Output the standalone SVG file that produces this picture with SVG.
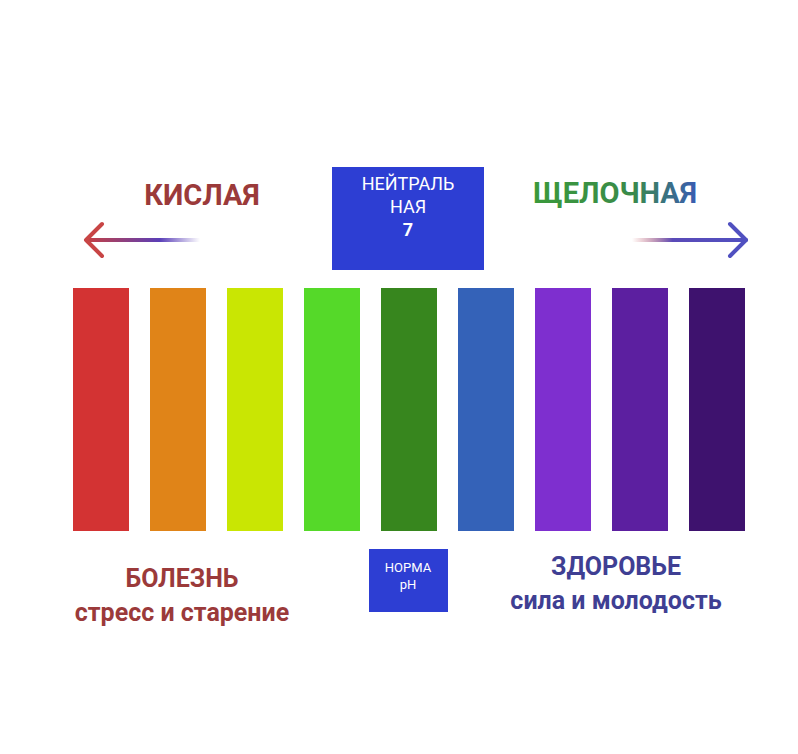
<svg xmlns="http://www.w3.org/2000/svg" width="798" height="754" viewBox="0 0 798 754">
<defs>
<linearGradient id="gl" x1="85" y1="0" x2="200" y2="0" gradientUnits="userSpaceOnUse"><stop offset="0" stop-color="#c84040"/><stop offset="0.65" stop-color="#5a3fb8"/><stop offset="1" stop-color="#5a3fb8" stop-opacity="0"/></linearGradient>
<linearGradient id="gr" x1="632" y1="0" x2="748" y2="0" gradientUnits="userSpaceOnUse"><stop offset="0" stop-color="#c84040" stop-opacity="0"/><stop offset="0.35" stop-color="#5a4ab8"/><stop offset="1" stop-color="#5050c0"/></linearGradient>
<linearGradient id="gt" x1="530" y1="0" x2="700" y2="0" gradientUnits="userSpaceOnUse"><stop offset="0" stop-color="#3a9a3a"/><stop offset="0.6" stop-color="#3a8a4a"/><stop offset="1" stop-color="#3a5ab8"/></linearGradient>
<style>
text{font-family:Roboto,"Liberation Sans",sans-serif;text-anchor:middle}
.b{font-weight:bold}
.w{fill:#fff}
</style>
</defs>
<rect width="798" height="754" fill="#fff"/>
<g id="bars">
<rect x="73" y="288" width="56" height="243" fill="#d33333"/>
<rect x="150" y="288" width="56" height="243" fill="#e08418"/>
<rect x="227" y="288" width="56" height="243" fill="#c9e603"/>
<rect x="304" y="288" width="56" height="243" fill="#55d929"/>
<rect x="381" y="288" width="56" height="243" fill="#37861e"/>
<rect x="458" y="288" width="56" height="243" fill="#3462b8"/>
<rect x="535" y="288" width="56" height="243" fill="#7e2fcf"/>
<rect x="612" y="288" width="56" height="243" fill="#5c1fa0"/>
<rect x="689" y="288" width="56" height="243" fill="#3e126e"/>
</g>
<g id="neutral">
<rect x="332" y="167" width="152" height="103" fill="#2d3ed3"/>
<text x="408" y="190" class="w" font-size="18">НЕЙТРАЛЬ</text>
<text x="408" y="213" class="w" font-size="18">НАЯ</text>
<text x="408" y="236" class="w b" font-size="18">7</text>
</g>
<g id="norma">
<rect x="369" y="549" width="79" height="63" fill="#2d3ed3"/>
<text x="408" y="572" class="w" font-size="13">НОРМА</text>
<text x="408" y="589" class="w" font-size="13">pH</text>
</g>
<g id="labels">
<text x="202" y="205" class="b" font-size="29" fill="#9b3a3a">КИСЛАЯ</text>
<text x="615" y="203" class="b" font-size="29" fill="url(#gt)">ЩЕЛОЧНАЯ</text>
<text x="182" y="587" class="b" font-size="25" fill="#9b3a3a">БОЛЕЗНЬ</text>
<text x="182" y="621" class="b" font-size="25" fill="#9b3a3a">стресс и старение</text>
<text x="616" y="575" class="b" font-size="25" fill="#3f3f93">ЗДОРОВЬЕ</text>
<text x="616" y="609" class="b" font-size="25" fill="#3f3f93">сила и молодость</text>
</g>
<g id="connectors" fill="none" stroke-width="4" stroke-linecap="round" stroke-linejoin="round">
<path d="M87 240H200" stroke="url(#gl)"/>
<path d="M102 224L86 240L102 256" stroke="#c84545"/>
<path d="M632 240H746" stroke="url(#gr)"/>
<path d="M730 224L746 240L730 256" stroke="#5050c0"/>
</g>
</svg>
